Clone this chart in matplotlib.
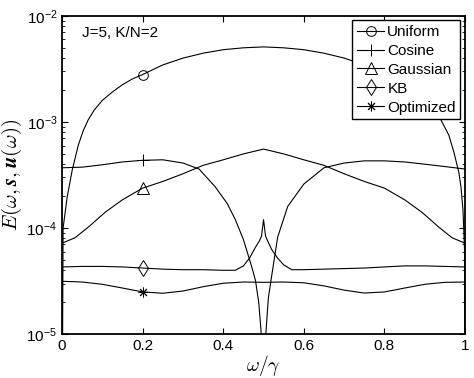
import matplotlib
matplotlib.use('Agg')
import matplotlib.pyplot as plt
import numpy as np
from matplotlib.lines import Line2D
from matplotlib.ticker import LogLocator, NullFormatter

# Шрифты в стиле MATLAB
plt.rcParams['font.family'] = ['Liberation Sans', 'DejaVu Sans']
plt.rcParams['mathtext.fontset'] = 'custom'
plt.rcParams['mathtext.rm'] = 'Liberation Sans'
plt.rcParams['mathtext.it'] = 'Liberation Sans:italic'
plt.rcParams['mathtext.bf'] = 'Liberation Sans:bold'

# Данные
w_uniform = [0, 0.0025, 0.0125, 0.025, 0.04, 0.052, 0.065, 0.08, 0.1, 0.125, 0.15,
             0.175, 0.2, 0.25, 0.3, 0.35, 0.4, 0.45, 0.5, 0.55, 0.6, 0.65, 0.7, 0.75,
             0.8, 0.825, 0.85, 0.875, 0.9, 0.92, 0.94, 0.96, 0.973, 0.985, 0.99,
             0.995, 0.999, 1.0]
e_uniform = [1e-6, 1.0e-4, 1.95e-4, 3.5e-4, 6.0e-4, 8.2e-4, 1.05e-3, 1.3e-3, 1.6e-3,
             1.92e-3, 2.25e-3, 2.55e-3, 2.8e-3, 3.45e-3, 4.0e-3, 4.45e-3, 4.8e-3,
             5.0e-3, 5.1e-3, 5.0e-3, 4.8e-3, 4.45e-3, 4.0e-3, 3.45e-3, 2.8e-3,
             2.5e-3, 2.2e-3, 1.9e-3, 1.55e-3, 1.3e-3, 1.05e-3, 7.5e-4, 5.1e-4,
             3.3e-4, 2.44e-4, 1.48e-4, 6e-5, 1e-6]

w_cosine = [0, 0.05, 0.1, 0.15, 0.2, 0.25, 0.3, 0.34, 0.38, 0.41, 0.43, 0.45, 0.47,
            0.48, 0.488, 0.494, 0.498, 0.502, 0.506, 0.512, 0.52, 0.535, 0.56, 0.6,
            0.65, 0.7, 0.75, 0.8, 0.85, 0.9, 0.95, 1.0]
e_cosine = [3.7e-4, 3.75e-4, 3.95e-4, 4.2e-4, 4.35e-4, 4.4e-4, 4.1e-4, 3.6e-4, 2.45e-4,
            1.7e-4, 1.2e-4, 7.8e-5, 4.4e-5, 3.2e-5, 2.0e-5, 1.05e-5, 3e-6, 3e-6,
            1.05e-5, 2.2e-5, 3.5e-5, 8.2e-5, 1.6e-4, 2.6e-4, 3.7e-4, 4.1e-4, 4.3e-4,
            4.3e-4, 4.2e-4, 4.0e-4, 3.8e-4, 3.6e-4]

w_gauss = [0, 0.032, 0.065, 0.107, 0.15, 0.2, 0.25, 0.3, 0.35, 0.4, 0.45, 0.5,
           0.55, 0.6, 0.65, 0.7, 0.75, 0.8, 0.85, 0.893, 0.935, 0.968, 1.0]
e_gauss = [7.2e-5, 8.1e-5, 1.02e-4, 1.41e-4, 1.85e-4, 2.38e-4, 2.75e-4, 3.25e-4,
           3.9e-4, 4.4e-4, 5.0e-4, 5.55e-4, 5.0e-4, 4.4e-4, 3.9e-4, 3.25e-4,
           2.75e-4, 2.38e-4, 1.85e-4, 1.41e-4, 1.02e-4, 8.1e-5, 7.2e-5]

w_kb = [0, 0.05, 0.1, 0.15, 0.2, 0.25, 0.3, 0.35, 0.4, 0.43, 0.45, 0.465, 0.48,
        0.49, 0.495, 0.5, 0.505, 0.51, 0.52, 0.535, 0.55, 0.57, 0.6, 0.65, 0.7,
        0.75, 0.8, 0.85, 0.9, 0.95, 1.0]
e_kb = [4.3e-5, 4.35e-5, 4.35e-5, 4.3e-5, 4.2e-5, 4.1e-5, 4.05e-5, 4.05e-5, 4.0e-5,
        4.0e-5, 4.4e-5, 5.2e-5, 6.6e-5, 7.6e-5, 8.4e-5, 1.2e-4, 8.4e-5, 7.6e-5,
        6.3e-5, 5.2e-5, 4.5e-5, 4.05e-5, 4.05e-5, 4.1e-5, 4.15e-5, 4.2e-5, 4.3e-5,
        4.4e-5, 4.4e-5, 4.35e-5, 4.3e-5]

w_opt = [0, 0.05, 0.1, 0.15, 0.2, 0.25, 0.3, 0.35, 0.4, 0.45, 0.5, 0.55, 0.6, 0.65,
         0.7, 0.75, 0.8, 0.85, 0.9, 0.95, 1.0]
e_opt = [3.15e-5, 3.1e-5, 2.95e-5, 2.72e-5, 2.5e-5, 2.43e-5, 2.55e-5, 2.8e-5, 3.02e-5,
         3.1e-5, 3.08e-5, 3.1e-5, 3.05e-5, 2.85e-5, 2.6e-5, 2.44e-5, 2.5e-5, 2.72e-5,
         2.95e-5, 3.08e-5, 3.1e-5]

labels = ['Uniform', 'Cosine', 'Gaussian', 'KB', 'Optimized']
markers = ['o', '+', '^', 'd', (8, 2, 0)]
msizes = [7, 9, 8, 8, 7]
series = [(w_uniform, e_uniform), (w_cosine, e_cosine), (w_gauss, e_gauss),
          (w_kb, e_kb), (w_opt, e_opt)]
mark_at = 0.2

fig = plt.figure(figsize=(4.74, 3.78), dpi=100)
ax = fig.add_axes([0.131, 0.116, 0.850, 0.842])

handles = []
for (w, e), lab, mk, ms in zip(series, labels, markers, msizes):
    w = np.array(w)
    e = np.array(e)
    ax.plot(w, e, color='black', linewidth=0.8)
    i = int(np.argmin(np.abs(w - mark_at)))
    ax.plot(w[i], e[i], linestyle='none', marker=mk, markersize=ms,
            markerfacecolor='none', markeredgecolor='black', markeredgewidth=0.7)
    handles.append(Line2D([], [], color='black', linewidth=0.8, marker=mk,
                          markersize=ms, markerfacecolor='none',
                          markeredgecolor='black', markeredgewidth=0.7, label=lab))

ax.set_yscale('log')
ax.set_xlim(0, 1)
ax.set_ylim(1e-5, 1e-2)
ax.set_xticks([0, 0.2, 0.4, 0.6, 0.8, 1])
ax.set_xticklabels(['0', '0.2', '0.4', '0.6', '0.8', '1'])
ax.yaxis.set_major_locator(LogLocator(base=10, numticks=10))
ax.yaxis.set_minor_locator(LogLocator(base=10, subs=np.arange(2, 10), numticks=20))
ax.yaxis.set_minor_formatter(NullFormatter())
ax.tick_params(which='both', direction='in', top=True, right=True, labelsize=11)
ax.tick_params(which='major', length=4, width=0.8)
ax.tick_params(which='minor', length=2.5, width=0.6)
for sp in ax.spines.values():
    sp.set_linewidth(1.3)

ax.set_xlabel(r'$\omega/\gamma$', fontsize=14, math_fontfamily='cm', labelpad=0)
ax.set_ylabel(r'$E(\omega,\boldsymbol{s},\boldsymbol{u}(\omega))$', fontsize=15,
              math_fontfamily='cm', labelpad=2)

ax.text(0.05, 0.946, 'J=5, K/N=2', transform=ax.transAxes, fontsize=11,
        ha='left', va='center')

leg = ax.legend(handles=handles, loc='upper right', fontsize=11, fancybox=False,
                framealpha=1, edgecolor='black', handlelength=1.8,
                handletextpad=0.2, labelspacing=0.32, borderpad=0.3,
                borderaxespad=0.3)
leg.get_frame().set_linewidth(1.0)

fig.savefig('out.png', dpi=100)
